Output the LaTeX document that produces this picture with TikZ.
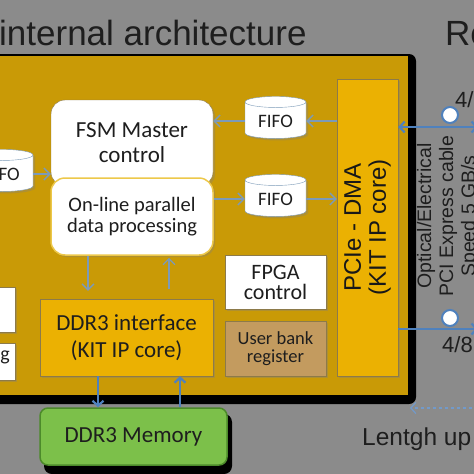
\documentclass[tikz,border=0pt]{standalone}
\usepackage{fontspec}
\setmainfont{Carlito}
\newfontfamily\arialfont{Liberation Sans}
\usetikzlibrary{shapes.geometric,arrows.meta,shadows}

\definecolor{bggrey}{HTML}{8B8B8B}
\definecolor{boardgold}{HTML}{C99A06}
\definecolor{lightgold}{HTML}{EBB102}
\definecolor{goldline}{HTML}{8C7A4A}
\definecolor{onlineline}{HTML}{EDC84A}
\definecolor{banktan}{HTML}{C39B5F}
\definecolor{memgreen}{HTML}{7CC04A}
\definecolor{memline}{HTML}{4C8A2A}
\definecolor{flowc}{HTML}{7C9AB8}
\definecolor{busc}{HTML}{4F81BD}
\definecolor{inkc}{HTML}{1E1E1E}

\begin{document}
\begin{tikzpicture}[
        x=1pt, y=-1pt, % pixel grid, y grows downward
        cell/.style={draw=goldline, fill=white, align=center, inner sep=1pt, text=inkc,
            drop shadow={shadow xshift=2pt, shadow yshift=-2pt, opacity=0.35}}, % boxes
        fifo/.style={cylinder, shape border rotate=90, aspect=0.3, draw=flowc, fill=white,
            minimum width=61pt, minimum height=42pt, inner sep=1pt, text=inkc,
            font=\fontsize{19}{19}\selectfont,
            drop shadow={shadow xshift=2pt, shadow yshift=-2pt, opacity=0.35}},
        flow/.style={draw=flowc, line width=1.3pt, -{Straight Barb[length=6pt, width=12pt]}},
        bus/.style={draw=busc, line width=2.2pt, -{Straight Barb[length=5pt, width=11pt]}},
        port/.style={circle, draw=busc, line width=2pt, fill=white, minimum size=16pt, inner sep=0pt},
        kant/.style={font=\arialfont\fontsize{22}{22}\selectfont, text=inkc, inner sep=0pt},
    ]
    \useasboundingbox (0,0) rectangle (474,474);
    \fill[bggrey] (0,0) rectangle (474,474);

    % board
    \fill[black, rounded corners=7pt] (-20,54) rectangle (416,404);
    \fill[boardgold] (-20,56) rectangle (408,395);

    \node[anchor=base west, inner sep=0pt, text=inkc, font=\arialfont\fontsize{35}{35}\selectfont] (title) at (-1,45) {internal architecture};
    \node[anchor=base west, inner sep=0pt, text=inkc, font=\arialfont\fontsize{35}{35}\selectfont] (re) at (445,45) {Re};

    \node[cell, fill=lightgold, minimum width=61pt, minimum height=297pt] (pcie) at (367.5,227.5) {};
    \node[rotate=90, align=center, text=inkc!80!black, font=\arialfont\fontsize{24}{25}\selectfont] (pcietext) at (pcie.center) {PCIe - DMA\\(KIT IP core)};

    \node[cell, rounded corners=14pt, minimum width=162pt, minimum height=86pt, font=\fontsize{23}{25}\selectfont] (fsm) at (132,143) {FSM Master\\control};
    \node[cell, draw=onlineline, line width=1.5pt, rounded corners=14pt, minimum width=162pt, minimum height=77pt, font=\fontsize{20.5}{21.5}\selectfont] (online) at (132,216.5) {On-line parallel\\data processing};

    \node[fifo] (fifoT) at (275.5,121) {FIFO};
    \node[fifo] (fifoM) at (275.5,199) {FIFO};
    \node[fifo] (fifoL) at (2.5,174) {FIFO};

    \node[cell, minimum width=101pt, minimum height=54pt, font=\fontsize{22}{20}\selectfont] (fpga) at (275.5,282) {FPGA\\control};
    \node[cell, fill=banktan, minimum width=101pt, minimum height=55pt, font=\fontsize{18.5}{18}\selectfont] (bank) at (275.5,348.5) {User bank\\register};
    \node[cell, fill=lightgold, minimum width=173pt, minimum height=77pt, font=\fontsize{23}{27}\selectfont] (ddri) at (126.5,337.5) {DDR3 interface\\(KIT IP core)};

    \node[cell, minimum width=35pt, minimum height=45pt] (leftA) at (-2.5,309.5) {};
    \node[cell, minimum width=35pt, minimum height=37pt] (leftB) at (-2.5,361.5) {};
    \node[text=inkc, inner sep=0pt, font=\fontsize{20}{20}\selectfont] (leftBtext) at (5,357) {g};

    % memory
    \fill[black, rounded corners=8pt] (44,414) rectangle (232,474);
    \node[draw=memline, line width=1.5pt, fill=memgreen, rounded corners=8pt, minimum width=187pt, minimum height=57pt, text=inkc, font=\fontsize{23}{23}\selectfont] (mem) at (133.5,436.5) {DDR3 Memory};

    % data paths inside the FPGA
    \draw[flow] (fifoT.east -| pcie.west) -- (fifoT.east);
    \draw[flow] (fifoT.west) -- (fifoT.west -| fsm.east);
    \draw[flow] (fifoL.east) -- (fifoL.east -| fsm.west);
    \draw[flow] (fifoM.west -| online.east) -- (fifoM.west);
    \draw[flow] (fifoM.east) -- (fifoM.east -| pcie.west);

    \coordinate (xdown) at (88,0);
    \coordinate (xup) at (169,0);
    \draw[flow, shorten >=8pt] (online.south -| xdown) -- (ddri.north -| xdown);
    \draw[flow, shorten <=10pt, shorten >=2pt] (ddri.north -| xup) -- (online.south -| xup);

    \coordinate (xrd) at (98,0);
    \coordinate (xwr) at (180,0);
    \draw[bus] (ddri.south -| xrd) -- (mem.north -| xrd);
    \draw[bus] (mem.north -| xwr) -- (ddri.south -| xwr);

    % cable to the outside
    \coordinate (cableT) at (478,127);
    \coordinate (cableB) at (478,329);
    \draw[bus, {Straight Barb[length=5pt, width=11pt]}-{Straight Barb[length=5pt, width=11pt]}] (cableT) -- (cableT -| pcie.east);
    \draw[bus] (cableB -| pcie.east) -- (cableB);
    \node[port] (portT) at (450,115) {};
    \node[port] (portB) at (450,318) {};
    \node[kant, anchor=base west] (laneT) at (455,107) {4/8};
    \node[kant, anchor=base west] (laneB) at (442,352) {4/8};

    \node[rotate=90, align=center, text=inkc, font=\arialfont\fontsize{19.5}{22}\selectfont] (cable) at (448,216) {Optical/Electrical\\PCI Express cable\\Speed 5 GB/s};

    \coordinate (lenR) at (478,408);
    \coordinate (lenL) at (410,408);
    \draw[draw=busc!80!white, line width=1.2pt, dashed, -{Straight Barb[length=5pt, width=11pt]}] (lenR) -- (lenL);
    \node[anchor=base west, inner sep=0pt, text=inkc, font=\arialfont\fontsize{24.5}{24.5}\selectfont] (length) at (362,445) {Lentgh up};
\end{tikzpicture}
\end{document}
